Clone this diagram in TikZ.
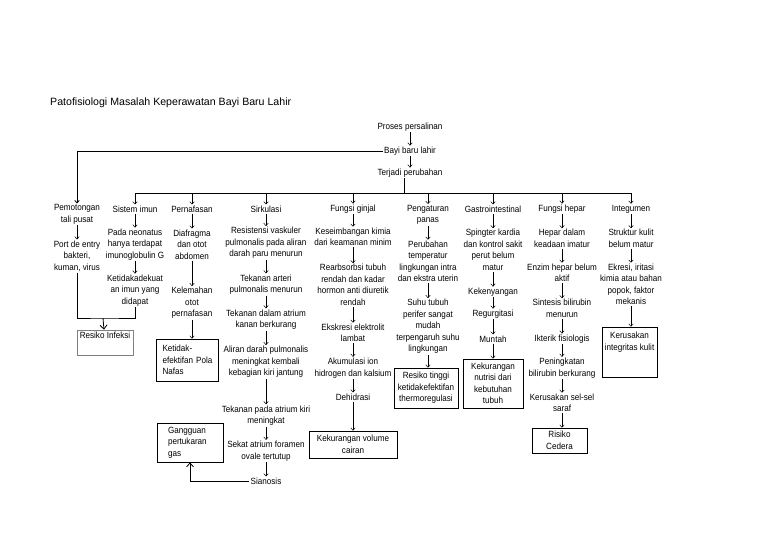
\documentclass[tikz,border=0pt]{standalone}
\usepackage{fontspec}
\setmainfont{Liberation Sans}[FakeStretch=0.9]
\newfontfamily\judulfont{Liberation Sans}
\usetikzlibrary{arrows.meta}
\tikzset{
	teks/.style={font=\fontsize{9}{11.5}\selectfont, align=center, inner sep=1pt},
	kotak/.style={teks, draw, line width=0.7pt, inner sep=0pt},
	panah/.style={-{Straight Barb[length=2.5pt,width=4.5pt]}, line width=0.5pt},
	panahbesar/.style={-{Straight Barb[length=4pt,width=7pt]}, line width=0.8pt},
	garis/.style={line width=0.8pt},
}
\begin{document}
\begin{tikzpicture}[x=1pt, y=-1pt]
	\path[fill=white, use as bounding box] (0,0) rectangle (768,557);
	% Judul
	\node[font=\judulfont\fontsize{10.6}{12}\selectfont, anchor=west, inner sep=0pt] (judul) at (50,103) {Patofisiologi Masalah Keperawatan Bayi Baru Lahir};
	% Awal
	\node[teks] (proses) at (410,127) {Proses persalinan};
	\node[teks] (bayi) at (410,151) {Bayi baru lahir};
	\node[teks] (terjadi) at (410,173) {Terjadi perubahan};
	\coordinate (bus) at (404,193);
	% Kolom 1
	\node[teks] (pemot) at (77,214.5) {Pemotongan\\tali pusat};
	\node[teks] (port) at (77,256) {Port de entry\\bakteri,\\kuman, virus};
	% Kolom 2
	\node[teks] (imun) at (135,209) {Sistem imun};
	\node[teks] (neonatus) at (135,244.5) {Pada neonatus\\hanya terdapat\\imunoglobulin G};
	\node[teks] (didapat) at (135,290.5) {Ketidakadekuat\\an imun yang\\didapat};
	\node[kotak, draw=gray, minimum width=56pt, minimum height=25pt] (infeksi) at (105,342.5) {\parbox[t][21pt][t]{54pt}{\centering Resiko Infeksi}};
	% Kolom 3
	\node[teks] (nafas) at (192,209) {Pernafasan};
	\node[teks] (diafragma) at (192,244.5) {Diafragma\\dan otot\\abdomen};
	\node[teks] (lemah) at (192,303) {Kelemahan\\otot\\pernafasan};
	\node[kotak, align=left, text width=50pt, inner xsep=6pt, minimum height=42pt] (polanafas) at (187.5,360) {Ketidak-\\efektifan Pola\\Nafas};
	% Kolom 4
	\node[teks] (sirkulasi) at (266,209) {Sirkulasi};
	\node[teks] (resisten) at (266,243) {Resistensi vaskuler\\pulmonalis pada aliran\\darah paru menurun};
	\node[teks] (arteri) at (266,284.5) {Tekanan arteri\\pulmonalis menurun};
	\node[teks] (atrium) at (266,319.5) {Tekanan dalam atrium\\kanan berkurang};
	\node[teks] (aliran) at (266,362) {Aliran darah pulmonalis\\meningkat kembali\\kebagian kiri jantung};
	\node[teks] (atriumkiri) at (266,415.5) {Tekanan pada atrium kiri\\meningkat};
	\node[teks] (sekat) at (266,451) {Sekat atrium foramen\\ovale tertutup};
	\node[teks] (sianosis) at (266,481) {Sianosis};
	\node[kotak, align=left, text width=44pt, inner xsep=11pt, minimum height=39pt] (gangguan) at (190,442.5) {Gangguan\\pertukaran\\gas};
	% Kolom 5
	\node[teks] (ginjal) at (353,209) {Fungsi ginjal};
	\node[teks] (seimbang) at (353,237) {Keseimbangan kimia\\dari keamanan minim};
	\node[teks] (rearb) at (353,285) {Rearbsorbsi tubuh\\rendah dan kadar\\hormon anti diuretik\\rendah};
	\node[teks] (ekskresi) at (353,333) {Ekskresi elektrolit\\lambat};
	\node[teks] (akumulasi) at (353,368) {Akumulasi ion\\hidrogen dan kalsium};
	\node[teks] (dehidrasi) at (353,397) {Dehidrasi};
	\node[kotak, minimum width=88pt, minimum height=27pt] (volume) at (353,444.5) {Kekurangan volume\\cairan};
	% Kolom 6
	\node[teks] (panas) at (428,215) {Pengaturan\\panas};
	\node[teks] (perubahan) at (428,261.5) {Perubahan\\temperatur\\lingkungan intra\\dan ekstra uterin};
	\node[teks] (suhu) at (428,326.5) {Suhu tubuh\\perifer sangat\\mudah\\terpengaruh suhu\\lingkungan};
	\node[kotak, minimum width=64pt, minimum height=40pt] (termo) at (426,388) {Resiko tinggi\\ketidakefektifan\\thermoregulasi};
	% Kolom 7
	\node[teks] (gastro) at (493,209) {Gastrointestinal};
	\node[teks] (spingter) at (493,250) {Spingter kardia\\dan kontrol sakit\\perut belum\\matur};
	\node[teks] (kenyang) at (493,292) {Kekenyangan};
	\node[teks] (regurg) at (493,314) {Regurgitasi};
	\node[teks] (muntah) at (493,339) {Muntah};
	\node[kotak, minimum width=60pt, minimum height=49pt] (nutrisi) at (493,383.5) {Kekurangan\\nutrisi dari\\kebutuhan\\tubuh};
	% Kolom 8
	\node[teks] (hepar) at (562,209) {Fungsi hepar};
	\node[teks] (imatur) at (562,238.5) {Hepar dalam\\keadaan imatur};
	\node[teks] (enzim) at (562,273) {Enzim hepar belum\\aktif};
	\node[teks] (sintesis) at (562,308.5) {Sintesis bilirubin\\menurun};
	\node[teks] (ikterik) at (562,339) {Ikterik fisiologis};
	\node[teks] (naik) at (562,368) {Peningkatan\\bilirubin berkurang};
	\node[teks] (saraf) at (562,403) {Kerusakan sel-sel\\saraf};
	\node[kotak, minimum width=55pt, minimum height=25pt] (cedera) at (559.5,440.5) {Risiko\\Cedera};
	% Kolom 9
	\node[teks] (integ) at (631,209) {Integumen};
	\node[teks] (struktur) at (631,238.5) {Struktur kulit\\belum matur};
	\node[teks] (ekresi) at (631,284.5) {Ekresi, iritasi\\kimia atau bahan\\popok, faktor\\mekanis};
	\node[kotak, minimum width=55pt, minimum height=50pt] (kulit) at (629.5,352) {\parbox[t][46pt][t]{53pt}{\centering\vspace*{3pt}Kerusakan\\integritas kulit}};
	% Garis atas
	\draw[panah] (proses) -- (bayi);
	\draw[panah] (bayi) -- (terjadi);
	\draw[panah, garis] (bayi.west) -| (pemot);
	\draw[garis] (bus |- terjadi.south) -- (bus);
	\draw[garis] (imun |- bus) -- (integ |- bus);
	\foreach \k in {imun,nafas,sirkulasi,ginjal,panas,gastro,hepar,integ}
		\draw[panah] (\k |- bus) -- (\k);
	% Panah dalam kolom
	\foreach \a/\b in {pemot/port, imun/neonatus, neonatus/didapat,
		nafas/diafragma, diafragma/lemah, lemah/polanafas,
		sirkulasi/resisten, resisten/arteri, arteri/atrium, atrium/aliran,
		aliran/atriumkiri, atriumkiri/sekat, sekat/sianosis,
		ginjal/seimbang, seimbang/rearb, rearb/ekskresi, ekskresi/akumulasi,
		akumulasi/dehidrasi, dehidrasi/volume,
		panas/perubahan, perubahan/suhu, suhu/termo,
		gastro/spingter, spingter/kenyang, kenyang/regurg, regurg/muntah, muntah/nutrisi,
		hepar/imatur, imatur/enzim, enzim/sintesis, sintesis/ikterik, ikterik/naik,
		naik/saraf, saraf/cedera,
		integ/struktur, struktur/ekresi, ekresi/kulit}
		\draw[panah] (\a.south) -- (\a.south |- \b.north);
	% Resiko infeksi
	\coordinate (jI) at (103,318);
	\draw[garis] (port) |- (jI) -| (didapat);
	\draw[panahbesar] (jI) -- (infeksi);
	% Sianosis ke gangguan
	\draw[panahbesar] (sianosis) -| (gangguan);
\end{tikzpicture}
\end{document}
